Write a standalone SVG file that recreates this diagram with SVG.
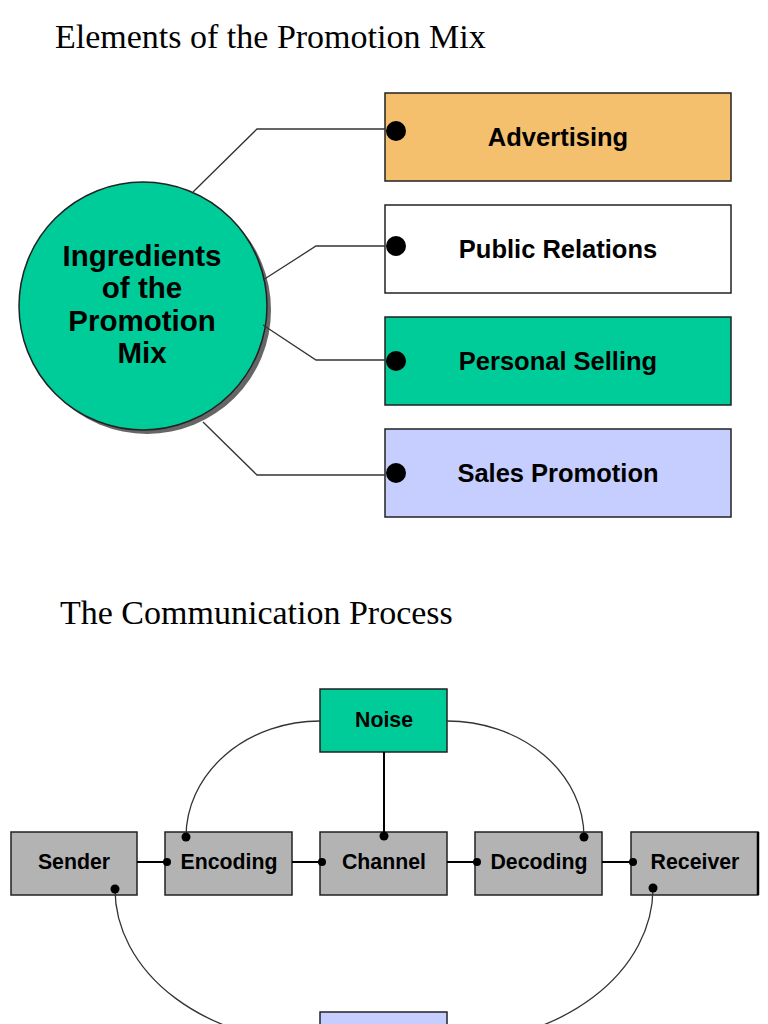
<svg xmlns="http://www.w3.org/2000/svg" width="768" height="1024" viewBox="0 0 768 1024">
<style>
.title{font-family:"Liberation Serif",serif;font-size:34px;fill:#000}
.big{font-family:"Liberation Sans",Arial,sans-serif;font-weight:bold;font-size:25.5px;fill:#000;text-anchor:middle}
.circ{font-family:"Liberation Sans",Arial,sans-serif;font-weight:bold;font-size:29.5px;fill:#000;text-anchor:middle}
.sm{font-family:"Liberation Sans",Arial,sans-serif;font-weight:bold;font-size:21.3px;fill:#000;text-anchor:middle}
.box{stroke:#222;stroke-width:1.5}
.gray{fill:#b3b3b3}
.conn{fill:none;stroke:#333;stroke-width:1.3}
.conn2{fill:none;stroke:#000;stroke-width:2}
</style>
<rect width="768" height="1024" fill="#fff"/>
<text class="title" x="55" y="48">Elements of the Promotion Mix</text>
<text class="title" x="60" y="624">The Communication Process</text>

<g id="ingredients">
<circle cx="147" cy="310" r="124" fill="#666"/>
<circle cx="143" cy="306" r="124" fill="#00cc99" stroke="#222" stroke-width="1.5"/>
<text class="circ" x="142" y="266">Ingredients</text>
<text class="circ" x="142" y="298">of the</text>
<text class="circ" x="142" y="331">Promotion</text>
<text class="circ" x="142" y="363">Mix</text>
</g>
<g id="advertising">
<rect class="box" x="385" y="93" width="346" height="88" fill="#f5c06e"/>
<text class="big" x="558" y="146">Advertising</text>
</g>
<g id="public-relations">
<rect class="box" x="385" y="205" width="346" height="88" fill="#fff"/>
<text class="big" x="558" y="258">Public Relations</text>
</g>
<g id="personal-selling">
<rect class="box" x="385" y="317" width="346" height="88" fill="#00cc99"/>
<text class="big" x="558" y="370">Personal Selling</text>
</g>
<g id="sales-promotion">
<rect class="box" x="385" y="429" width="346" height="88" fill="#c5ceff"/>
<text class="big" x="558" y="482">Sales Promotion</text>
</g>

<g id="noise">
<rect class="box" x="320" y="689" width="127" height="63" fill="#00cc99"/>
<text class="sm" x="384" y="727">Noise</text>
</g>
<g id="sender">
<rect class="box gray" x="11" y="832" width="126" height="63"/>
<text class="sm" x="74" y="869">Sender</text>
</g>
<g id="encoding">
<rect class="box gray" x="165" y="832" width="127" height="63"/>
<text class="sm" x="229" y="869">Encoding</text>
</g>
<g id="channel">
<rect class="box gray" x="320" y="832" width="127" height="63"/>
<text class="sm" x="384" y="869">Channel</text>
</g>
<g id="decoding">
<rect class="box gray" x="475" y="832" width="127" height="63"/>
<text class="sm" x="539" y="869">Decoding</text>
</g>
<g id="receiver">
<rect class="box gray" x="631" y="832" width="127" height="63"/>
<line x1="758" y1="832" x2="758" y2="895" stroke="#000" stroke-width="2.5"/>
<text class="sm" x="695" y="869">Receiver</text>
</g>
<g id="feedback">
<rect class="box" x="320" y="1012" width="127" height="63" fill="#c5ceff"/>
</g>

<g id="connectors">
<polyline class="conn" points="193,192 257,129 385,129"/>
<polyline class="conn" points="263,280 316,246 385,246"/>
<polyline class="conn" points="263,325 316,360 385,360"/>
<polyline class="conn" points="203,422 257,475 385,475"/>
<circle cx="396" cy="131" r="10"/>
<circle cx="396" cy="246" r="10"/>
<circle cx="396" cy="361" r="10"/>
<circle cx="396" cy="473" r="10"/>

<line class="conn2" x1="137" y1="862" x2="167" y2="862"/>
<line class="conn2" x1="292" y1="862" x2="322" y2="862"/>
<line class="conn2" x1="447" y1="862" x2="477" y2="862"/>
<line class="conn2" x1="602" y1="862" x2="633" y2="862"/>
<line class="conn2" x1="384" y1="752" x2="384" y2="836"/>
<path class="conn" d="M320,721 A134 116 0 0 0 186,837"/>
<path class="conn" d="M447,721 A137 116 0 0 1 584,837"/>
<path class="conn" d="M115,889 A205 154 0 0 0 320,1043"/>
<path class="conn" d="M653,888 A206 155 0 0 1 447,1043"/>
<circle cx="167" cy="862" r="4"/>
<circle cx="322" cy="862" r="4"/>
<circle cx="477" cy="862" r="4"/>
<circle cx="633" cy="862" r="4"/>
<circle cx="384" cy="836" r="4.5"/>
<circle cx="186" cy="837" r="4.5"/>
<circle cx="584" cy="837" r="4.5"/>
<circle cx="115" cy="889" r="4.5"/>
<circle cx="653" cy="888" r="4.5"/>
</g>
</svg>
